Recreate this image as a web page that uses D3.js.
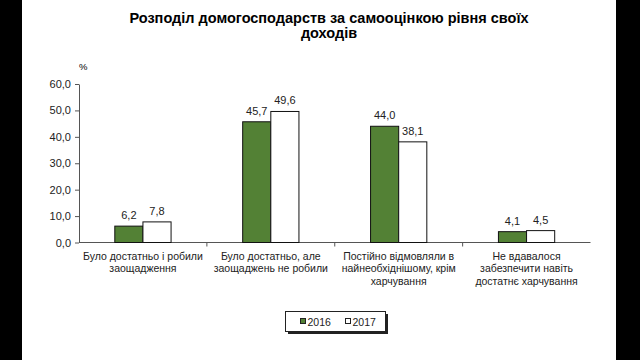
<!DOCTYPE html>
<html><head><meta charset="utf-8">
<script src="https://cdn.jsdelivr.net/npm/d3@7"></script>
<style>body{margin:0;background:#fff}svg{display:block}text{font-family:"Liberation Sans",Arial,sans-serif}</style>
</head><body><svg id="c" width="640" height="360"></svg>
<script>
const categories = [
  ["Було достатньо і робили", "заощадження"],
  ["Було достатньо, але", "заощаджень не  робили"],
  ["Постійно відмовляли в", "найнеобхіднішому, крім", "харчування"],
  ["Не вдавалося", "забезпечити навіть", "достатнє харчування"]
];
const series = ["2016", "2017"];
const values2016 = [6.2, 45.7, 44.0, 4.1];
const values2017 = [7.8, 49.6, 38.1, 4.5];
const yTicks = [0, 10, 20, 30, 40, 50, 60];
const titleLines = ["Розподіл домогосподарств за самооцінкою рівня своїх", "доходів"];
const colors = {"2016": "#538135", "2017": "#ffffff"};

const svg = d3.select("#c");
svg.append("rect").attr("x",0).attr("y",0).attr("width",22).attr("height",360).attr("fill","#000");
svg.append("rect").attr("x",616).attr("y",0).attr("width",24).attr("height",360).attr("fill","#000");

const fmt = v => d3.format(".1f")(v).replace(".", ",");
const idx = d3.range(categories.length);
const x = d3.scaleBand().domain(idx).range([79, 590.5]).paddingInner(0.56).paddingOuter(0.28);
const xs = d3.scaleBand().domain(series).range([0, x.bandwidth()]);
const y = d3.scaleLinear().domain([0, 60]).range([242.5, 84]);

// title
const t = svg.append("text").attr("text-anchor","middle").attr("font-weight","bold").attr("font-size",14.5).attr("fill","#000");
titleLines.forEach((l,i)=> t.append("tspan").attr("x",329).attr("y",23 + i*15).text(l));

// % label
svg.append("text").attr("x",79).attr("y",70).attr("font-size",9.5).text("%");

// y axis
const ya = svg.append("g").attr("transform","translate(79,0)")
  .call(d3.axisLeft(y).tickValues(yTicks).tickFormat(fmt).tickSize(4).tickSizeOuter(0));
ya.select(".domain").attr("stroke","#555");
ya.selectAll(".tick line").attr("stroke","#555");
ya.selectAll("text").attr("font-size",11).attr("fill","#222").attr("font-family","Liberation Sans, Arial, sans-serif").attr("dx",-1);

// x axis baseline
const stepW = x.step();
svg.append("line").attr("x1",x.range()[0]).attr("x2",x.range()[1]).attr("y1",y(0)).attr("y2",y(0)).attr("stroke","#555");
idx.slice(1).forEach(i=>{
  const bx = x(i) - stepW*x.paddingInner()/2;
  svg.append("line").attr("x1",bx).attr("x2",bx).attr("y1",y(0)).attr("y2",y(0)+4).attr("stroke","#555");
});

// bars
const data = {"2016": values2016, "2017": values2017};
series.forEach(s=>{
  const g = svg.append("g");
  g.selectAll("rect").data(data[s]).join("rect")
    .attr("x",(d,i)=>x(i)+xs(s)).attr("width",xs.bandwidth())
    .attr("y",d=>y(d)).attr("height",d=>y(0)-y(d))
    .attr("fill",colors[s]).attr("stroke","#111").attr("stroke-width",1);
  g.selectAll("text").data(data[s]).join("text")
    .attr("x",(d,i)=>x(i)+xs(s)+xs.bandwidth()/2).attr("y",d=>y(d)-7)
    .attr("text-anchor","middle").attr("font-size",11).attr("fill","#222").text(fmt);
});

// category labels
categories.forEach((lines,i)=>{
  const tx = svg.append("text").attr("text-anchor","middle").attr("font-size",10.5).attr("fill","#222");
  lines.forEach((l,j)=>tx.append("tspan").attr("x",x(i)+x.bandwidth()/2).attr("y",260 + j*12.4).text(l));
});

// legend
const lg = svg.append("g");
lg.append("rect").attr("x",288).attr("y",314).attr("width",100).attr("height",20).attr("fill","#222");
lg.append("rect").attr("x",285.5).attr("y",311.5).attr("width",100).attr("height",20).attr("fill","#fff").attr("stroke","#222");
const lx = d3.scaleOrdinal().domain(series).range([300.5, 345.5]);
series.forEach(s=>{
  lg.append("rect").attr("x",lx(s)).attr("y",318.5).attr("width",5).attr("height",5).attr("fill",colors[s]).attr("stroke","#222");
  lg.append("text").attr("x",lx(s)+7).attr("y",325.5).attr("font-size",10.5).attr("fill","#222").text(s);
});
</script></body></html>
